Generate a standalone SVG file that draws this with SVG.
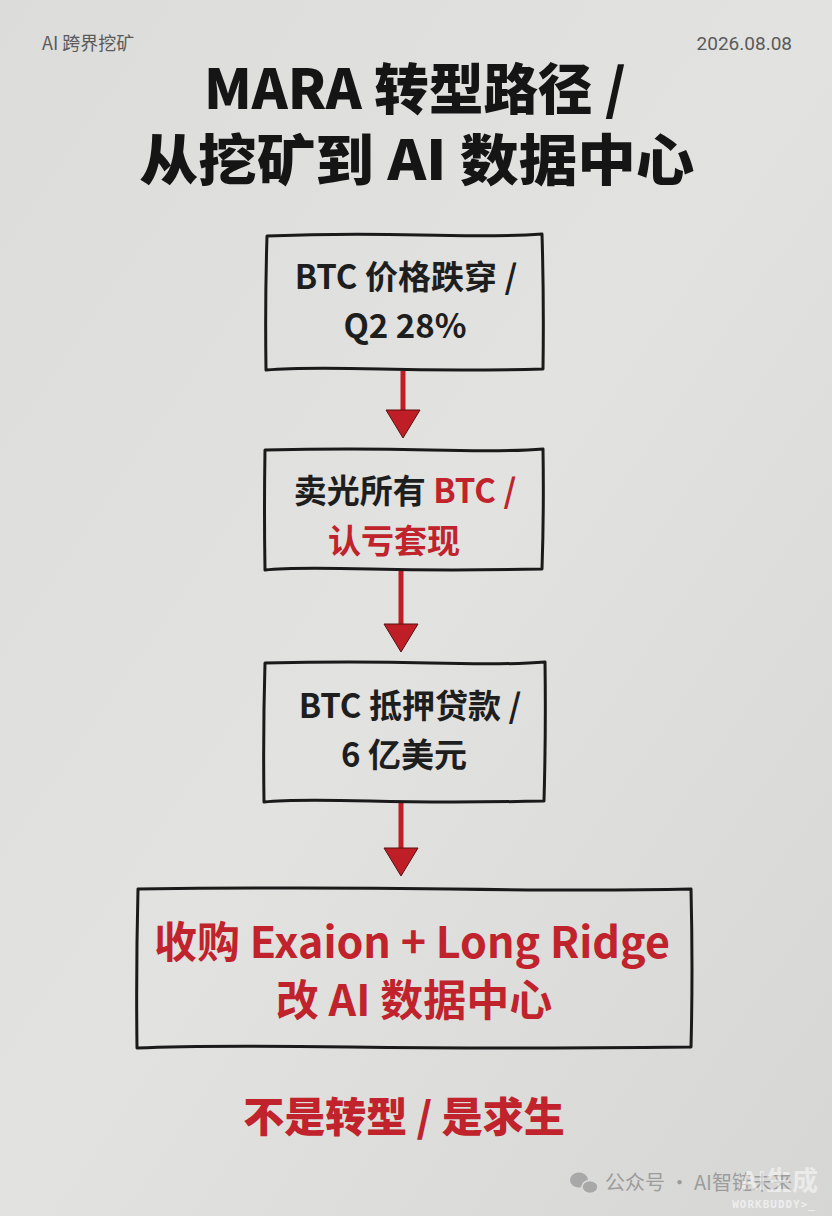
<svg xmlns="http://www.w3.org/2000/svg" width="832" height="1216" viewBox="0 0 832 1216">
<defs>
<style>
.cjk{font-family:"Noto Sans CJK SC","Noto Sans",sans-serif}
.title{font-size:55px;font-weight:900;fill:#151515;text-anchor:middle}
.lbl{font-size:33px;font-weight:700;fill:#1e1e1e;text-anchor:middle}
.red{fill:#c0232b}
.big{font-size:43px;font-weight:700;text-anchor:middle}
.box{fill:none;stroke:#1a1a1a;stroke-width:3;stroke-linejoin:round;stroke-linecap:round}
.arr{stroke:#bf1e26;stroke-width:5;fill:none}
.head{fill:#bf1e26;stroke:#5a1010;stroke-width:1}
</style>
<linearGradient id="bg" x1="0" y1="0" x2="1" y2="1">
<stop offset="0" stop-color="#dcdcdb"/>
<stop offset="0.5" stop-color="#e2e2e1"/>
<stop offset="1" stop-color="#d6d6d5"/>
</linearGradient>
</defs>
<rect width="832" height="1216" fill="url(#bg)"/>

<g id="header">
<text class="cjk" x="42" y="50" font-size="18" fill="#5a5a5a">AI 跨界挖矿</text>
<text x="792" y="50" font-size="19" fill="#5a5a5a" text-anchor="end" font-family="Roboto,'Liberation Sans',sans-serif">2026.08.08</text>
<text class="cjk title" x="415" y="109" textLength="422" lengthAdjust="spacingAndGlyphs">MARA 转型路径 /</text>
<text class="cjk title" x="417" y="180" textLength="555" lengthAdjust="spacingAndGlyphs">从挖矿到 AI 数据中心</text>
</g>

<g id="connectors">
<line class="arr" x1="403" y1="371" x2="403" y2="414"/>
<path class="head" d="M386,410 L420,410 L403,438 Z"/>
<line class="arr" x1="401" y1="571" x2="401" y2="628"/>
<path class="head" d="M384,624 L418,624 L401,652 Z"/>
<line class="arr" x1="401" y1="803" x2="401" y2="851"/>
<path class="head" d="M384,848 L418,848 L401,876 Z"/>
</g>

<g id="node1">
<path class="box" d="M267,236 Q340,233 420,235 T542,234 Q544,300 543,369 Q460,371 380,369 T266,370 Q265,300 267,236 Z"/>
<text class="cjk lbl" x="406" y="289">BTC 价格跌穿 /</text>
<text class="cjk lbl" x="405" y="338">Q2 28%</text>
</g>

<g id="node2">
<path class="box" d="M265,450 Q350,448 430,450 T543,449 Q544,510 542,569 Q450,571 370,569 T265,570 Q264,510 265,450 Z"/>
<text class="cjk lbl" x="405" y="503">卖光所有 <tspan class="red">BTC /</tspan></text>
<text class="cjk lbl red" x="394" y="553">认亏套现</text>
</g>

<g id="node3">
<path class="box" d="M265,663 Q350,661 430,663 T545,662 Q546,730 544,801 Q450,803 370,801 T264,802 Q263,730 265,663 Z"/>
<text class="cjk lbl" x="410" y="718">BTC 抵押贷款 /</text>
<text class="cjk lbl" x="404" y="767">6 亿美元</text>
</g>

<g id="node4">
<path class="box" d="M138,889 Q300,887 450,889 T691,889 Q693,970 691,1047 Q500,1049 350,1047 T137,1048 Q136,970 138,889 Z"/>
<text class="cjk big red" x="412" y="958">收购 Exaion + Long Ridge</text>
<text class="cjk big red" x="414" y="1016">改 AI 数据中心</text>
</g>

<g id="footer">
<text class="cjk red" x="404" y="1132" font-size="41" font-weight="900" text-anchor="middle">不是转型 / 是求生</text>
<g fill="#a8a8a8">
<ellipse cx="579" cy="1180" rx="9" ry="7.5"/>
<ellipse cx="590" cy="1187" rx="8" ry="6.5" stroke="#dcdcdb" stroke-width="1.5"/>
</g>
<text class="cjk" x="605" y="1190" font-size="20" fill="#9c9c9c">公众号 · AI智链未来</text>
<text class="cjk" x="818" y="1190" font-size="26" font-weight="700" fill="#ffffff" fill-opacity="0.5" text-anchor="end">AI生成</text>
<text x="816" y="1208" font-size="11" font-weight="700" fill="#ffffff" fill-opacity="0.6" text-anchor="end" font-family="'DejaVu Sans Mono',monospace" letter-spacing="1">WORKBUDDY&gt;_</text>
</g>
</svg>
